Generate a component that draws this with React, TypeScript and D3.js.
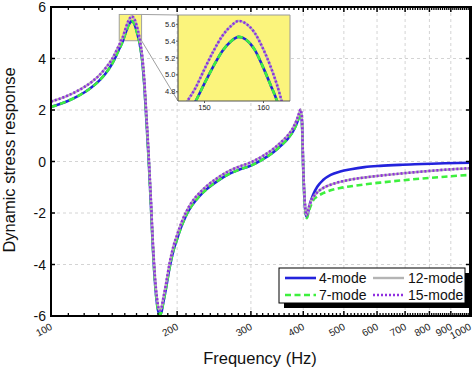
import React from "react";
import * as d3 from "d3";

// frequency grid (Hz) shared by all series
const freqs = [
  100, 105, 110, 115, 120, 125, 130, 135, 140, 143, 145, 147, 148.5, 150, 151.5, 153, 154.5, 155.8, 157,
  158.5, 160, 161.2, 162.3, 163.5, 165, 167, 169, 171, 173, 175, 177, 179, 180.5, 182, 183.5, 185, 188,
  192, 196, 200, 205, 210, 217, 225, 235, 250, 265, 280, 300, 320, 340, 355, 368, 378, 386, 391, 394,
  397, 400, 403, 405.5, 408, 411, 415, 422, 432, 446, 465, 490, 520, 560, 610, 680, 770, 870, 1000,
];

const mode4 = [
  2.12, 2.23, 2.36, 2.51, 2.68, 2.88, 3.12, 3.42, 3.8, 4.1, 4.32, 4.52, 4.69, 4.9, 5.1, 5.28, 5.4, 5.45, 5.42,
  5.3, 5.08, 4.88, 4.69, 4.4, 3.95, 2.95, 1.55, 0.1, -1.55, -3.3, -4.65, -5.5, -5.85, -5.95, -5.85, -5.55, -4.95,
  -4.1, -3.45, -3.0, -2.5, -2.1, -1.7, -1.38, -1.08, -0.75, -0.5, -0.33, -0.16, 0.08, 0.37, 0.64, 0.9, 1.17, 1.48, 1.74, 1.9,
  1.55, -0.35, -1.55, -2.05, -2.15, -1.95, -1.65, -1.3, -0.98, -0.72, -0.52, -0.39, -0.3, -0.22, -0.17, -0.13, -0.1, -0.07, -0.05,
];

const mode7 = [
  2.12, 2.23, 2.36, 2.51, 2.68, 2.88, 3.12, 3.42, 3.8, 4.1, 4.32, 4.52, 4.69, 4.9, 5.1, 5.28, 5.4, 5.45, 5.42,
  5.3, 5.08, 4.88, 4.69, 4.4, 3.95, 2.95, 1.55, 0.1, -1.55, -3.3, -4.65, -5.5, -5.85, -5.95, -5.85, -5.55, -4.95,
  -4.1, -3.45, -3.0, -2.5, -2.1, -1.7, -1.38, -1.08, -0.75, -0.5, -0.33, -0.16, 0.08, 0.37, 0.64, 0.9, 1.17, 1.48, 1.74, 1.9,
  1.55, -0.35, -1.55, -2.08, -2.2, -2.02, -1.8, -1.52, -1.36, -1.23, -1.12, -1.03, -0.96, -0.89, -0.82, -0.74, -0.66, -0.59, -0.52,
];

const mode12 = [
  2.33, 2.44, 2.57, 2.72, 2.89, 3.09, 3.33, 3.63, 3.99, 4.28, 4.48, 4.68, 4.85, 5.07, 5.28, 5.46, 5.58, 5.64, 5.61,
  5.5, 5.3, 5.1, 4.88, 4.58, 4.14, 3.15, 1.75, 0.3, -1.35, -3.1, -4.45, -5.3, -5.68, -5.78, -5.68, -5.38, -4.78,
  -3.93, -3.29, -2.85, -2.36, -1.97, -1.57, -1.26, -0.96, -0.63, -0.38, -0.21, -0.03, 0.21, 0.5, 0.77, 1.03, 1.3, 1.62, 1.88, 2.02,
  1.68, -0.25, -1.45, -1.98, -2.08, -1.88, -1.63, -1.4, -1.2, -1.03, -0.9, -0.79, -0.7, -0.62, -0.55, -0.47, -0.39, -0.32, -0.26,
];

const mode15 = [
  2.33, 2.44, 2.57, 2.72, 2.89, 3.09, 3.33, 3.63, 3.99, 4.28, 4.48, 4.68, 4.85, 5.07, 5.28, 5.46, 5.58, 5.64, 5.61,
  5.5, 5.3, 5.1, 4.88, 4.58, 4.14, 3.15, 1.75, 0.3, -1.35, -3.1, -4.45, -5.3, -5.68, -5.78, -5.68, -5.38, -4.78,
  -3.93, -3.29, -2.85, -2.36, -1.97, -1.57, -1.26, -0.96, -0.63, -0.38, -0.21, -0.03, 0.21, 0.5, 0.77, 1.03, 1.3, 1.62, 1.88, 2.02,
  1.68, -0.25, -1.45, -1.98, -2.08, -1.88, -1.63, -1.4, -1.2, -1.03, -0.9, -0.79, -0.7, -0.62, -0.55, -0.47, -0.39, -0.32, -0.26,
];

const seriesNames = ["4-mode", "7-mode", "12-mode", "15-mode"];
const xTicks = [100, 200, 300, 400, 500, 600, 700, 800, 900, 1000];
const yTicks = [-6, -4, -2, 0, 2, 4, 6];
const insetFreqRange = [145.5, 164.5];
const insetValueRange = [4.69, 5.71];
const insetXTicks = [150, 160];
const insetYTicks = [4.8, 5.0, 5.2, 5.4, 5.6];

const FONT = "'Liberation Sans', Arial, sans-serif";

const styles = [
  { color: "#2323dc", dash: "none", width: 2.6 },
  { color: "#3df03d", dash: "6 3.5", width: 2.6 },
  { color: "#b4b4b4", dash: "none", width: 2.4 },
  { color: "#9030e0", dash: "2 2", width: 2.6 },
];

export default function App() {
  const left = 51, right = 470, top = 7, bottom = 316;
  const x = d3.scaleLog().domain([100, 1000]).range([left, right]);
  const y = d3.scaleLinear().domain([-6, 6]).range([bottom, top]);

  // inset box
  const inL = 178, inR = 290, inT = 15, inB = 101;
  const ix = d3.scaleLinear().domain(insetFreqRange).range([inL, inR]);
  const iy = d3.scaleLinear().domain(insetValueRange).range([inB, inT]);

  const series = [mode4, mode7, mode12, mode15];

  const mainLine = (vals: number[]) =>
    d3.line<number>()
      .x((_, i) => x(freqs[i]))
      .y(d => y(d))
      .curve(d3.curveMonotoneX)(vals) || "";
  const insetLine = (vals: number[]) =>
    d3.line<number>()
      .x((_, i) => ix(freqs[i]))
      .y(d => iy(d))
      .curve(d3.curveMonotoneX)(vals) || "";

  const minorX = d3.range(110, 1000, 10).filter(v => v % 100 !== 0);

  // zoom rectangle in main plot
  const zx0 = x(insetFreqRange[0]), zx1 = x(insetFreqRange[1]);
  const zy0 = y(insetValueRange[1]), zy1 = y(insetValueRange[0]);

  // legend layout
  const lgX = 279, lgY = 268, lgW = 186, lgH = 35;
  const legendPos = [
    { lx: 285, ly: 278, tx: 319 },
    { lx: 285, ly: 295, tx: 319 },
    { lx: 373, ly: 278, tx: 408 },
    { lx: 373, ly: 295, tx: 408 },
  ];

  return (
    <svg width={474} height={370} style={{ position: "absolute", left: 0, top: 0, background: "#fff" }} fontFamily={FONT}>
      <defs>
        <clipPath id="plotClip">
          <rect x={left} y={top} width={right - left} height={bottom - top} />
        </clipPath>
        <clipPath id="insetClip">
          <rect x={inL} y={inT} width={inR - inL} height={inB - inT} />
        </clipPath>
      </defs>

      {/* grid */}
      {xTicks.slice(1, -1).map(t => (
        <line key={"gx" + t} x1={x(t)} x2={x(t)} y1={top} y2={bottom} stroke="#d4d4d4" strokeDasharray="3 3" />
      ))}
      {yTicks.slice(1, -1).map(t => (
        <line key={"gy" + t} x1={left} x2={right} y1={y(t)} y2={y(t)} stroke="#d4d4d4" strokeDasharray="3 3" />
      ))}

      {/* zoomed region marker */}
      <rect x={zx0} y={zy0} width={zx1 - zx0} height={zy1 - zy0} fill="#fbf47c" stroke="#a0a0a0" strokeWidth={1} />
      <line x1={zx1} y1={zy0} x2={inL} y2={inT} stroke="#a0a0a0" strokeWidth={1} />
      <line x1={zx1} y1={zy1} x2={inL} y2={inB} stroke="#a0a0a0" strokeWidth={1} />

      {/* curves */}
      <g clipPath="url(#plotClip)">
        {series.map((vals, i) => (
          <path key={seriesNames[i]} d={mainLine(vals)} fill="none" stroke={styles[i].color}
            strokeWidth={styles[i].width} strokeDasharray={styles[i].dash} />
        ))}
      </g>

      {/* inset */}
      <rect x={inL} y={inT} width={inR - inL} height={inB - inT} fill="#fbf47c" />
      <g clipPath="url(#insetClip)">
        {series.map((vals, i) => (
          <path key={"in" + seriesNames[i]} d={insetLine(vals)} fill="none" stroke={styles[i].color}
            strokeWidth={styles[i].width} strokeDasharray={styles[i].dash} />
        ))}
      </g>
      <line x1={inL} x2={inR} y1={inT} y2={inT} stroke="#9a9a9a" />
      <line x1={inR} x2={inR} y1={inT} y2={inB} stroke="#9a9a9a" />
      <line x1={inL} x2={inL} y1={inT} y2={inB} stroke="#555" strokeWidth={1.2} />
      <line x1={inL} x2={inR} y1={inB} y2={inB} stroke="#555" strokeWidth={1.2} />
      {insetYTicks.map(t => (
        <g key={"iy" + t}>
          <line x1={inL - 2} x2={inL} y1={iy(t)} y2={iy(t)} stroke="#555" />
          <text x={inL - 2.5} y={iy(t)} fontSize={7.5} textAnchor="end" dominantBaseline="central" fill="#222">
            {t.toFixed(1)}
          </text>
        </g>
      ))}
      {insetXTicks.map(t => (
        <g key={"ix" + t}>
          <line x1={ix(t)} x2={ix(t)} y1={inB} y2={inB + 2} stroke="#555" />
          <text x={ix(t)} y={inB + 9} fontSize={7.5} textAnchor="middle" fill="#222">{t}</text>
        </g>
      ))}

      {/* frame */}
      <rect x={left} y={top} width={right - left} height={bottom - top} fill="none" stroke="#000" strokeWidth={2} />
      <line x1={right + 0.5} x2={right + 0.5} y1={top - 1} y2={bottom + 1} stroke="#000" strokeWidth={3} />

      {/* x ticks bottom and top */}
      {minorX.map(t => (
        <g key={"mx" + t}>
          <line x1={x(t)} x2={x(t)} y1={bottom} y2={bottom - 3} stroke="#000" strokeWidth={1.3} />
          <line x1={x(t)} x2={x(t)} y1={top} y2={top + 3} stroke="#000" strokeWidth={1.3} />
        </g>
      ))}
      {xTicks.map(t => (
        <g key={"xt" + t}>
          <line x1={x(t)} x2={x(t)} y1={bottom} y2={bottom - 5} stroke="#000" strokeWidth={1.5} />
          <line x1={x(t)} x2={x(t)} y1={top} y2={top + 5} stroke="#000" strokeWidth={1.5} />
          <text transform={`translate(${x(t) + 2},${bottom + 13}) rotate(-28)`} fontSize={10} textAnchor="end" fill="#222">
            {t}
          </text>
        </g>
      ))}

      {/* y ticks */}
      {yTicks.map(t => (
        <g key={"yt" + t}>
          <line x1={left} x2={left + 4} y1={y(t)} y2={y(t)} stroke="#000" strokeWidth={1.5} />
          <line x1={right} x2={right - 4} y1={y(t)} y2={y(t)} stroke="#000" strokeWidth={1.5} />
          <text x={left - 5} y={y(t)} fontSize={14} textAnchor="end" dominantBaseline="central" fill="#111">
            {t}
          </text>
        </g>
      ))}

      {/* axis titles */}
      <text x={260} y={364} fontSize={16.5} textAnchor="middle" fill="#111">Frequency (Hz)</text>
      <text transform={`translate(15,160) rotate(-90)`} fontSize={16.5} textAnchor="middle" fill="#111">
        Dynamic stress response
      </text>

      {/* legend */}
      <rect x={lgX + 5} y={lgY + 5} width={lgW} height={lgH} fill="#000" />
      <rect x={lgX} y={lgY} width={lgW} height={lgH} fill="#fff" stroke="#000" strokeWidth={1} />
      {seriesNames.map((name, i) => {
        const p = legendPos[i];
        return (
          <g key={"lg" + name}>
            <line x1={p.lx} x2={p.lx + 31} y1={p.ly} y2={p.ly} stroke={styles[i].color}
              strokeWidth={styles[i].width} strokeDasharray={styles[i].dash} />
            <text x={p.tx} y={p.ly} fontSize={14} dominantBaseline="central" fill="#111">{name}</text>
          </g>
        );
      })}
    </svg>
  );
}
